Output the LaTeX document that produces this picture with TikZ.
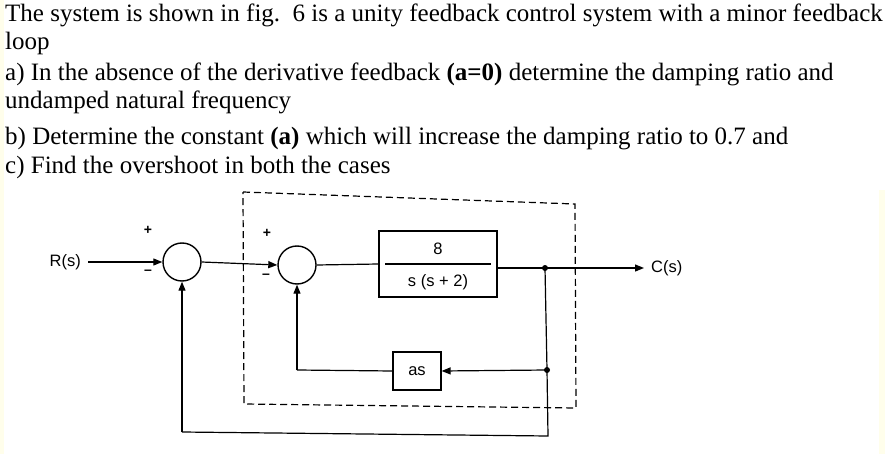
\documentclass[tikz,border=0pt]{standalone}
\usepackage{fontspec}
\setmainfont{Liberation Serif}
\newfontfamily\diag{Liberation Sans}
\usetikzlibrary{arrows.meta}
\begin{document}
\begin{tikzpicture}[x=1pt,y=-1pt,
  sumj/.style={draw,circle,minimum size=38pt,inner sep=0pt,line width=1.4pt},
  blk/.style={draw,line width=1.2pt,inner sep=0pt},
  ln/.style={line width=1.2pt},
  arr/.style={ln,-{Triangle[length=9pt,width=7pt]}},
  txt/.style={anchor=base west,inner sep=0pt,font=\fontsize{25}{28}\selectfont},
  lab/.style={font=\diag\fontsize{16.5}{18}\selectfont,inner sep=1pt},
  sg/.style={font=\diag\fontsize{14}{14}\selectfont\bfseries,inner sep=0pt}]
\useasboundingbox (0,0) rectangle (885,454);
\fill[white] (0,0) rectangle (885,454);
\fill[yellow!8] (0,0) rectangle (4,454);
\fill[yellow!8] (879,190) rectangle (885,454);
\node[txt] (t1) at (5,22) {The system is shown in fig.\ \ 6 is a unity feedback control system with a minor feedback};
\node[txt] (t2) at (5,50) {loop};
\node[txt] (t3) at (5,81) {a) In the absence of the derivative feedback \textbf{(a=0)} determine the damping ratio and};
\node[txt] (t4) at (5,109) {undamped natural frequency};
\node[txt] (t5) at (5,145) {b) Determine the constant \textbf{(a)} which will increase the damping ratio to 0.7 and};
\node[txt] (t6) at (5,174) {c) Find the overshoot in both the cases};
% dashed box
\draw[ln,dashed,dash pattern=on 7pt off 4pt] (243,192) -- (575,204) -- (576,408) -- (244,404) -- cycle;
\node[lab,anchor=east] (R) at (82,262) {R(s)};
\node[sumj] (s1) at (182,262) {};
\node[sumj] (s2) at (297,265) {};
\node[blk,minimum width=118pt,minimum height=66pt] (G) at (438,264) {};
\draw[ln] (385,264) -- (491,264);
\node[lab] (num) at (438,249) {8};
\node[lab] (den) at (438,282) {s (s + 2)};
\node[blk,minimum width=48pt,minimum height=38pt,font=\diag\fontsize{16.5}{18}\selectfont] (H) at (417,371) {as};
\coordinate (j1) at (545,268);
\coordinate (j2) at (547,370);
\coordinate (b1) at (548,436);
\coordinate (b2) at (182,432);
\coordinate (b3) at (297,370);
\node[lab,anchor=west] (C) at (650,268) {C(s)};
\draw[arr] (R.east) ++(6,0) -- (s1.west);
\draw[arr] (s1.east) -- (s2.west);
\draw[ln] (s2.east) -- (G.west);
\draw[arr] (G.east |- j1) -- ([xshift=-6pt]C.west);
\draw[ln] (j1) -- (j2) -- (b1) -- (b2);
\draw[arr] (b2) -- (s1.south);
\draw[arr] (j2) -- (H.east);
\draw[ln] (H.west) -- (b3);
\draw[arr] (b3) -- (s2.south);
\fill (j1) circle (3pt);
\fill (j2) circle (3pt);
\node[sg] (p1) at (148,230) {+};
\node[sg] (m1) at (148,272) {\textendash};
\node[sg] (p2) at (267,233) {+};
\node[sg] (m2) at (266,276) {\textendash};
\end{tikzpicture}
\end{document}
